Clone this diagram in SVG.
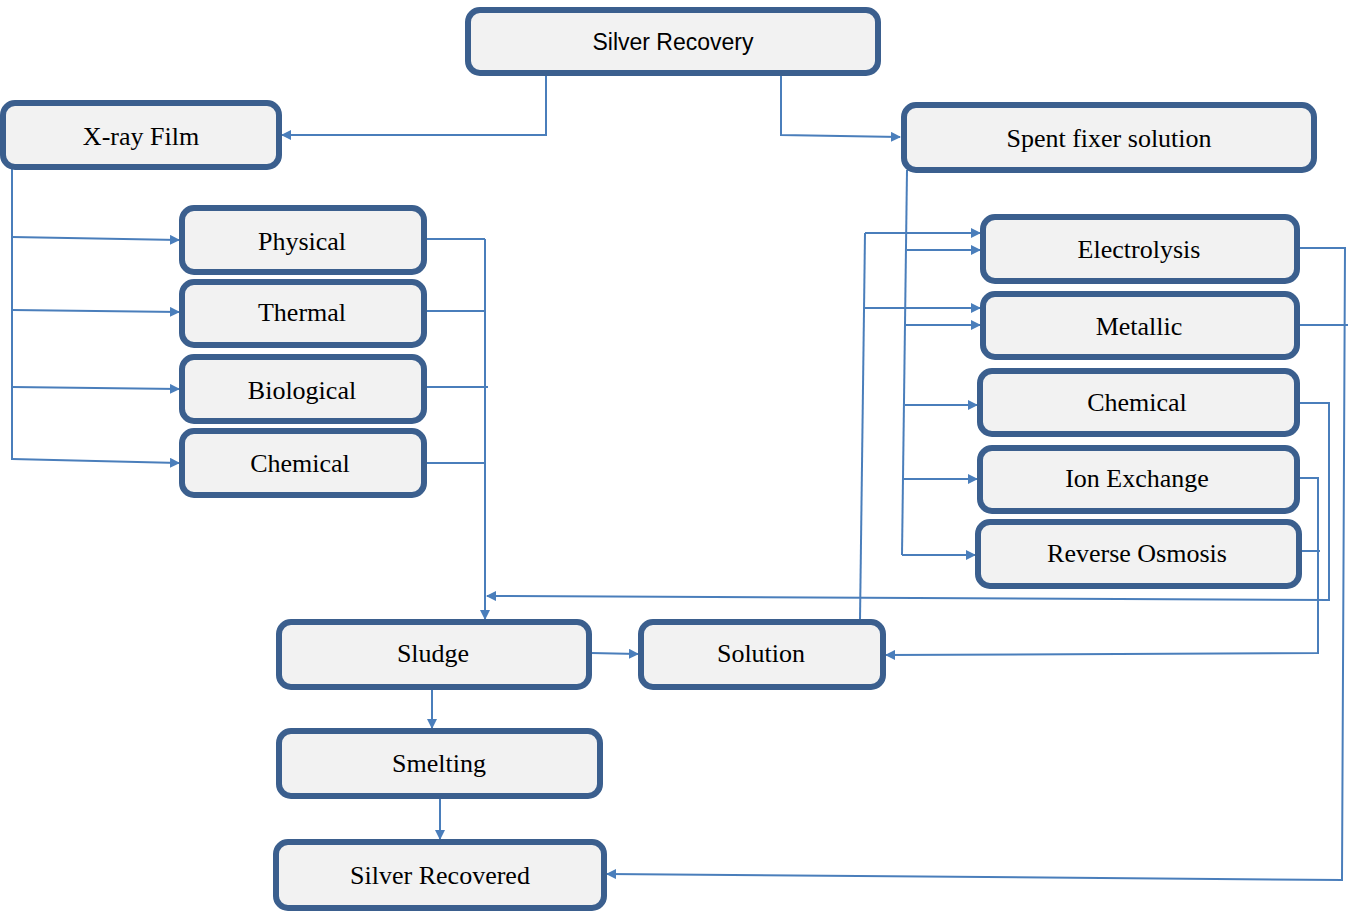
<svg xmlns="http://www.w3.org/2000/svg" width="1366" height="913" viewBox="0 0 1366 913">
<defs>
<marker id="a" markerWidth="10" markerHeight="10" refX="9" refY="5" orient="auto" markerUnits="userSpaceOnUse"><path d="M0,0 L10,5 L0,10 Z" fill="#4a7ebb"/></marker>
<style>
.n rect{fill:#f2f2f2;stroke:#3b5f8e;stroke-width:6}
.n text{font-family:"Liberation Serif",serif;font-size:26px;fill:#000;text-anchor:middle;dominant-baseline:central}
#c path{fill:none;stroke:#4a7ebb;stroke-width:2}
#c .ar{marker-end:url(#a)}
</style>
</defs>
<rect width="1366" height="913" fill="#fff"/>
<g id="c">
<path class="ar" d="M546,73 V135 H282"/>
<path class="ar" d="M781,73 V135 L900,137"/>
<path d="M12,168 V460"/>
<path class="ar" d="M12,237 L179,240"/>
<path class="ar" d="M12,310 L179,312"/>
<path class="ar" d="M12,387 L179,389"/>
<path class="ar" d="M12,459 L179,463"/>
<path d="M425,239 H485 M425,311 H485 M425,387 H488 M425,463 H485"/>
<path class="ar" d="M485,239 V619"/>
<path d="M907,170 L902,555"/>
<path class="ar" d="M907,250 H980"/>
<path class="ar" d="M905,325 H980"/>
<path class="ar" d="M905,405 H977"/>
<path class="ar" d="M903,479 H977"/>
<path class="ar" d="M902,555 H975"/>
<path d="M860,620 L865,233"/>
<path class="ar" d="M865,233 H980"/>
<path class="ar" d="M865,308 H980"/>
<path class="ar" d="M1299,248 H1345 L1342,880 L607,874"/>
<path d="M1299,325 H1348"/>
<path class="ar" d="M1299,403 H1329 V600 L487,596"/>
<path class="ar" d="M1299,478 H1318 V653 L886,655"/>
<path d="M1302,551 H1320"/>
<path class="ar" d="M591,653 L638,654"/>
<path class="ar" d="M432,688 V728"/>
<path class="ar" d="M440,798 V839"/>
</g>
<g id="n1" class="n"><rect x="468" y="10" width="410" height="63" rx="12"/><text x="673" y="42" font-family="Liberation Sans,sans-serif" style="font-family:'Liberation Sans',sans-serif;font-size:23px">Silver Recovery</text></g>
<g id="n2" class="n"><rect x="3" y="103" width="276" height="64" rx="12"/><text x="141" y="136">X-ray Film</text></g>
<g id="n3" class="n"><rect x="904" y="105" width="410" height="65" rx="12"/><text x="1109" y="138">Spent fixer solution</text></g>
<g id="n4" class="n"><rect x="182" y="208" width="242" height="64" rx="12"/><text x="302" y="241">Physical</text></g>
<g id="n5" class="n"><rect x="182" y="282" width="242" height="63" rx="12"/><text x="302" y="312">Thermal</text></g>
<g id="n6" class="n"><rect x="182" y="357" width="242" height="64" rx="12"/><text x="302" y="390">Biological</text></g>
<g id="n7" class="n"><rect x="182" y="431" width="242" height="64" rx="12"/><text x="300" y="463">Chemical</text></g>
<g id="n8" class="n"><rect x="983" y="217" width="314" height="64" rx="12"/><text x="1139" y="249">Electrolysis</text></g>
<g id="n9" class="n"><rect x="983" y="294" width="314" height="63" rx="12"/><text x="1139" y="326">Metallic</text></g>
<g id="n10" class="n"><rect x="980" y="371" width="317" height="63" rx="12"/><text x="1137" y="402">Chemical</text></g>
<g id="n11" class="n"><rect x="980" y="448" width="317" height="63" rx="12"/><text x="1137" y="478">Ion Exchange</text></g>
<g id="n12" class="n"><rect x="978" y="522" width="321" height="64" rx="12"/><text x="1137" y="553">Reverse Osmosis</text></g>
<g id="n13" class="n"><rect x="279" y="622" width="310" height="65" rx="12"/><text x="433" y="653">Sludge</text></g>
<g id="n14" class="n"><rect x="641" y="622" width="242" height="65" rx="12"/><text x="761" y="653">Solution</text></g>
<g id="n15" class="n"><rect x="279" y="731" width="321" height="65" rx="12"/><text x="439" y="763">Smelting</text></g>
<g id="n16" class="n"><rect x="276" y="842" width="328" height="66" rx="12"/><text x="440" y="875">Silver Recovered</text></g>
</svg>
